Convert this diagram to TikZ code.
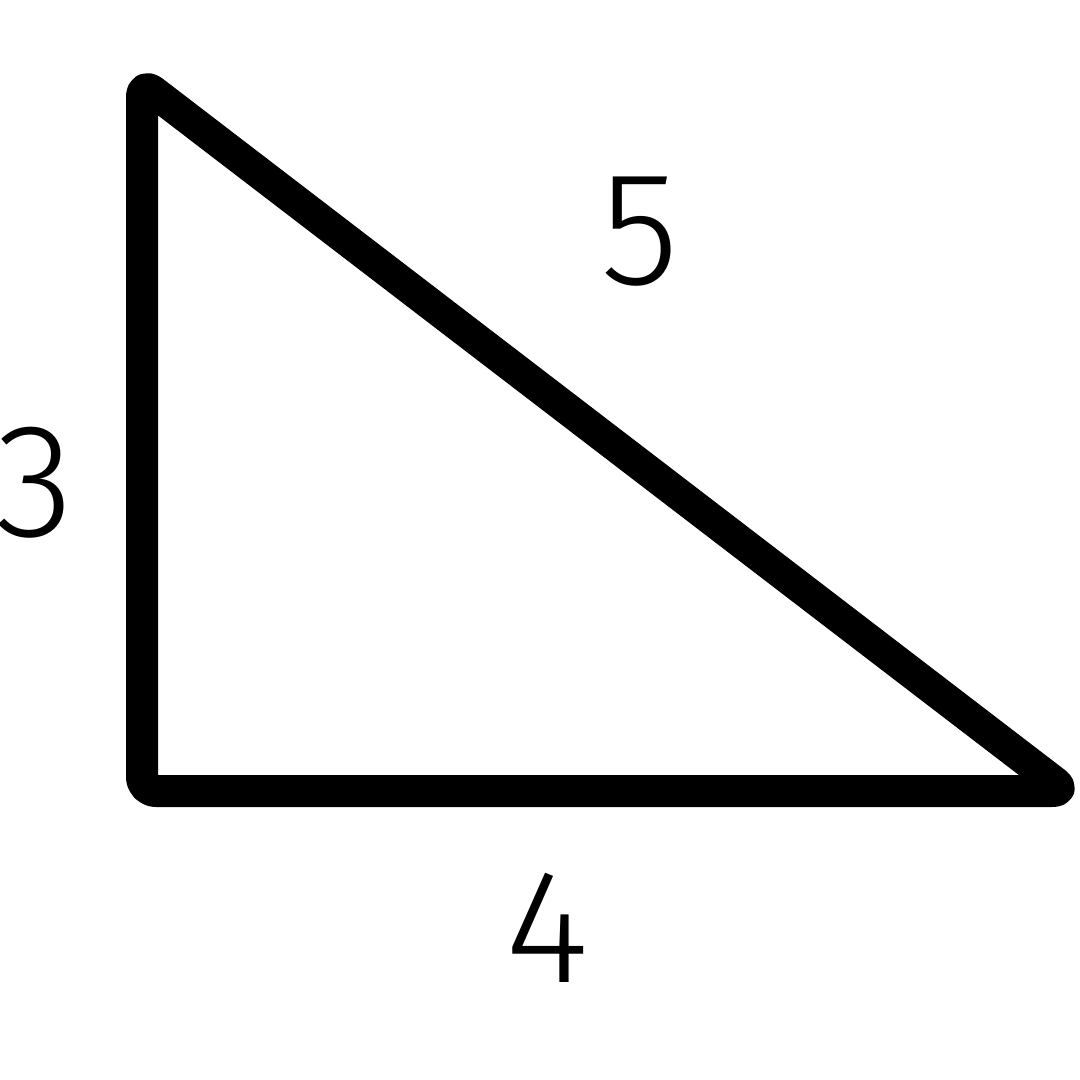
\documentclass[tikz,border=0pt]{standalone}
\usepackage{fontspec}
\newfontfamily\sidefont{Fira Sans Light}
\usetikzlibrary{positioning}

\begin{document}
\begin{tikzpicture}[
x=0.01cm, y=-0.01cm,
sidelabel/.style={font=\sidefont\fontsize{46}{46}\selectfont, inner sep=0pt}
]
    \useasboundingbox (0,0) rectangle (1080,1080);
    %Corners
    \coordinate (top)   at (142,83);
    \coordinate (left)  at (142,791);
    \coordinate (right) at (1066,791);

    %Lines
    \draw[line width=32*0.01cm, line join=round, rounded corners=14*0.01cm, draw=black]
        (top) -- (left) -- (right) -- cycle;

    %Labels
    \node[sidelabel] (a) at (35,483)  {3};
    \node[sidelabel] (b) at (547,928) {4};
    \node[sidelabel] (c) at (640,232) {5};
\end{tikzpicture}
\end{document}
